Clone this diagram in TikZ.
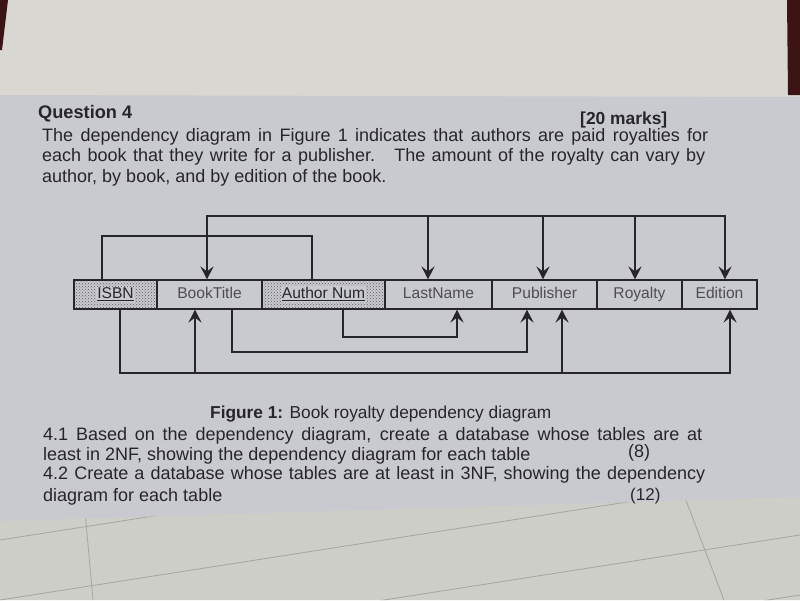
\documentclass[tikz,border=0pt]{standalone}
\usepackage{fontspec}
\setmainfont{Liberation Sans}
\usetikzlibrary{arrows.meta,patterns,calc}
\definecolor{sheet}{RGB}{201,202,207}
\definecolor{backtop}{RGB}{216,215,209}
\definecolor{backbot}{RGB}{206,206,201}
\definecolor{ink}{RGB}{38,38,42}
\definecolor{boxink}{RGB}{78,78,82}
\definecolor{corner}{RGB}{60,20,22}
\newcommand\jl[2]{\makebox[#1][s]{#2}}
\setlength{\fboxsep}{1pt}
\begin{document}
\begin{tikzpicture}[x=1pt,y=-1pt,
  attr/.style={draw=ink, line width=1.1pt, minimum height=29pt, inner sep=0pt,
    text height=11.5pt, text depth=3.5pt,
    font=\fontsize{15.6}{18}\selectfont, text=boxink},
  keyattr/.style={attr, pattern=crosshatch dots, pattern color=ink!75, text=ink},
  link/.style={draw=ink, line width=2.2pt, line join=miter},
  tip/.tip={Stealth[length=13pt,width=13pt,inset=5pt]},
  dep/.style={link, -tip},
  txt/.style={anchor=base west, inner sep=0pt, text=ink, font=\fontsize{18}{20}\selectfont}]
\useasboundingbox (0,0) rectangle (800,600);
% photo background
\fill[backtop] (0,0) rectangle (800,600);
\fill[backbot] (0,505) -- (800,485) -- (800,600) -- (0,600) -- cycle;
\begin{scope}
  \clip (0,505) -- (800,485) -- (800,600) -- (0,600) -- cycle;
  \foreach \y in {540,600,660,720,780,840}
    \draw[backbot!80!black, line width=0.8pt] (0,\y) -- (800,\y-125);
  \draw[backbot!80!black, line width=0.8pt] (84,500) -- (93,600);
  \draw[backbot!80!black, line width=0.8pt] (682,490) -- (724,600);
\end{scope}
\fill[corner] (0,0) -- (8,0) -- (2,50) -- (0,50) -- cycle;
\fill[corner] (787,0) -- (800,0) -- (800,95) -- (788,95) -- cycle;
% the question sheet
\fill[sheet] (0,95) -- (800,97) -- (800,497) -- (0,521) -- cycle;

% heading and text
\node[txt, font=\bfseries\fontsize{18.2}{20}\selectfont] (q) at (38,118) {Question 4};
\node[txt, font=\bfseries\fontsize{17.4}{20}\selectfont] (marks) at (580,124) {[20 marks]};
\node[txt] (l1) at (42,141) {\jl{666pt}{The dependency diagram in Figure 1 indicates that authors are paid royalties for}};
\node[txt] (l2) at (42,161.5) {\jl{663pt}{each book that they write for a publisher.\ \ \ The amount of the royalty can vary by}};
\node[txt] (l3) at (42,182) {author, by book, and by edition of the book.};

% attributes
\node[keyattr, minimum width=83pt]  (isbn)  at (115.5,294.5) {\colorbox{sheet}{\underline{ISBN}}};
\node[attr,    minimum width=105pt] (title) at (209.5,294.5) {BookTitle};
\node[keyattr, minimum width=123pt] (auth)  at (323.5,294.5) {\colorbox{sheet}{\underline{Author Num}}};
\node[attr,    minimum width=107pt] (last)  at (438.5,294.5) {LastName};
\node[attr,    minimum width=105pt] (pub)   at (544.5,294.5) {Publisher};
\node[attr,    minimum width=85pt]  (roy)   at (639.5,294.5) {Royalty};
\node[attr,    minimum width=75pt]  (ed)    at (719.5,294.5) {Edition};

% top connectors
\coordinate (a1) at (102,236);
\coordinate (a2) at (312,236);
\draw[link] (isbn.north -| a1) -- (a1) -- (a2) -- (auth.north -| a2);
\coordinate (b1) at (207,216);
\coordinate (b2) at (428,216);
\coordinate (b3) at (543,216);
\coordinate (b4) at (635,216);
\coordinate (b5) at (725,216);
\draw[link, tip-tip] (title.north -| b1) -- (b1) -- (b5) -- (ed.north -| b5);
\draw[dep] (b2) -- (last.north -| b2);
\draw[dep] (b3) -- (pub.north -| b3);
\draw[dep] (b4) -- (roy.north -| b4);

% bottom connectors
\coordinate (c0) at (120,373);
\coordinate (c1) at (195,373);
\coordinate (c2) at (562,373);
\coordinate (c3) at (730,373);
\draw[dep] (isbn.south -| c0) -- (c0) -- (c3) -- (ed.south -| c3);
\draw[dep] (c1) -- (title.south -| c1);
\draw[dep] (c2) -- (pub.south -| c2);
\coordinate (d0) at (232,352);
\coordinate (d1) at (527,352);
\draw[dep] (title.south -| d0) -- (d0) -- (d1) -- (pub.south -| d1);
\coordinate (e0) at (343,337);
\coordinate (e1) at (457,337);
\draw[dep] (auth.south -| e0) -- (e0) -- (e1) -- (last.south -| e1);

% caption and sub-questions
\node[txt, font=\fontsize{17.3}{20}\selectfont] (cap) at (210,418) {\textbf{Figure 1:} Book royalty dependency diagram};
\node[txt] (s1) at (43,440) {\jl{659pt}{4.1 Based on the dependency diagram, create a database whose tables are at}};
\node[txt] (s2) at (43,460) {least in 2NF, showing the dependency diagram for each table};
\node[txt] (m1) at (628,457) {(8)};
\node[txt] (s3) at (43,479) {\jl{662pt}{4.2 Create a database whose tables are at least in 3NF, showing the dependency}};
\node[txt] (s4) at (43,501) {diagram for each table};
\node[txt, font=\fontsize{17}{20}\selectfont] (m2) at (630,500) {(12)};
\end{tikzpicture}
\end{document}
